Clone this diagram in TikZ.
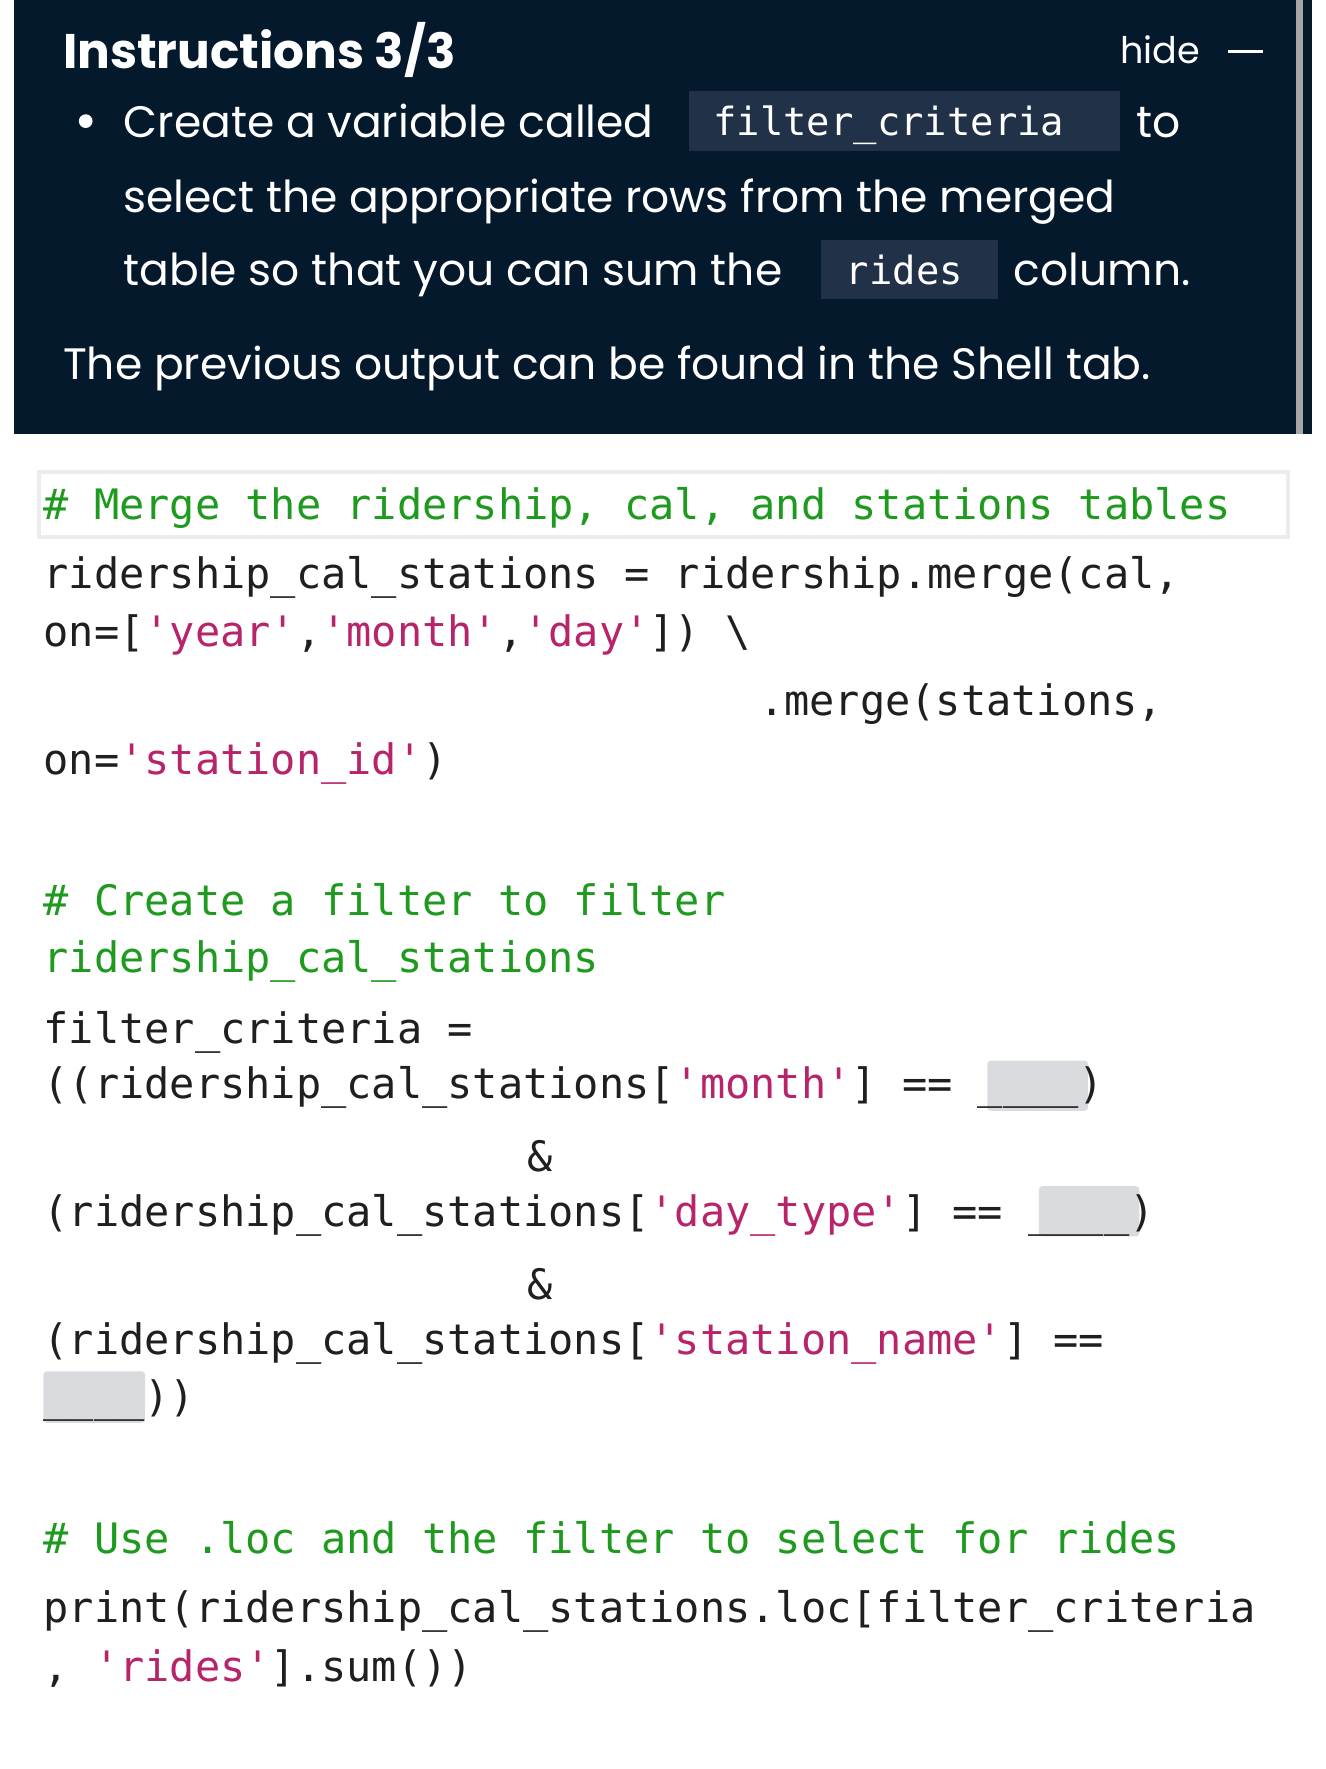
\documentclass[tikz,border=0pt]{standalone}
\usepackage{fontspec}
\setmainfont{Poppins}
\setmonofont{DejaVu Sans Mono}
\definecolor{navy}{HTML}{05192D}
\definecolor{chip}{HTML}{213147}
\definecolor{cgreen}{HTML}{1E9A1E}
\definecolor{cpink}{HTML}{B8246A}
\definecolor{ctext}{HTML}{1F1F1F}
\definecolor{blank}{HTML}{D9DBDE}
\newcommand{\cG}[1]{\textcolor{cgreen}{#1}}
\newcommand{\cP}[1]{\textcolor{cpink}{#1}}
\tikzset{
 ins/.style={anchor=base west,inner sep=0,text=white,font=\fontsize{38.5}{42}\selectfont},
 code/.style={anchor=base west,inner sep=0,text=ctext,font=\fontsize{36.7}{40}\ttfamily},
}
\begin{document}
\begin{tikzpicture}[x=1pt,y=-1pt]
\useasboundingbox (0,0) rectangle (1160,1548);
\fill[white] (0,0) rectangle (1160,1548);
\fill[navy] (12,0) rectangle (1148,380);
\fill[gray!70] (1134,0) rectangle (1140,380);
\node[ins,font=\fontsize{42.5}{46}\selectfont\bfseries] (title) at (55,60) {Instructions 3/3};
\node[ins,font=\fontsize{32}{36}\selectfont] (hide) at (980,56) {hide};
\draw[white,line width=3pt] (1075,45) -- (1105,45);
\fill[white] (75,106) circle (6);
\fill[chip] (603,80) rectangle (980,132);
\fill[chip] (718,210) rectangle (873,262);
\node[ins] (l1) at (108,120) {Create a variable called};
\node[ins,font=\fontsize{34}{40}\ttfamily] (fc) at (624,119) {filter\_criteria};
\node[ins] (to) at (994,120) {to};
\node[ins] (l2) at (108,186) {select the appropriate rows from the merged};
\node[ins] (l3) at (108,250) {table so that you can sum the};
\node[ins,font=\fontsize{34}{40}\ttfamily] (rd) at (740,249) {rides};
\node[ins] (col) at (887,250) {column.};
\node[ins] (prev) at (55,332) {The previous output can be found in the Shell tab.};
\draw[gray!15,line width=3pt] (34,413) rectangle (1127,470);
\fill[blank,rounded corners=3pt] (864,928) rectangle (952,972);
\fill[blank,rounded corners=3pt] (909,1038) rectangle (997,1082);
\fill[blank,rounded corners=3pt] (38,1200) rectangle (127,1245);
\node[code] (c1) at (38,455) {\cG{\# Merge the ridership, cal, and stations tables}};
\node[code] (c2) at (38,515) {ridership\_cal\_stations = ridership.merge(cal,};
\node[code] (c3) at (38,566) {on=[\cP{'year'},\cP{'month'},\cP{'day'}]) \textbackslash};
\node[code] (c4) at (664,626) {.merge(stations,};
\node[code] (c5) at (38,678) {on=\cP{'station\_id'})};
\node[code] (c6) at (38,801) {\cG{\# Create a filter to filter}};
\node[code] (c7) at (38,851) {\cG{ridership\_cal\_stations}};
\node[code] (c8) at (38,913) {filter\_criteria =};
\node[code] (c9) at (38,961) {((ridership\_cal\_stations[\cP{'month'}] == \_\_\_\_)};
\node[code] (c10) at (461,1025) {\&};
\node[code] (c11) at (38,1073) {(ridership\_cal\_stations[\cP{'day\_type'}] == \_\_\_\_)};
\node[code] (c12) at (461,1137) {\&};
\node[code] (c13) at (38,1185) {(ridership\_cal\_stations[\cP{'station\_name'}] ==};
\node[code] (c14) at (38,1235) {\_\_\_\_))};
\node[code] (c15) at (38,1359) {\cG{\# Use .loc and the filter to select for rides}};
\node[code] (c16) at (38,1420) {print(ridership\_cal\_stations.loc[filter\_criteria};
\node[code] (c17) at (38,1471) {, \cP{'rides'}].sum())};
\end{tikzpicture}
\end{document}
